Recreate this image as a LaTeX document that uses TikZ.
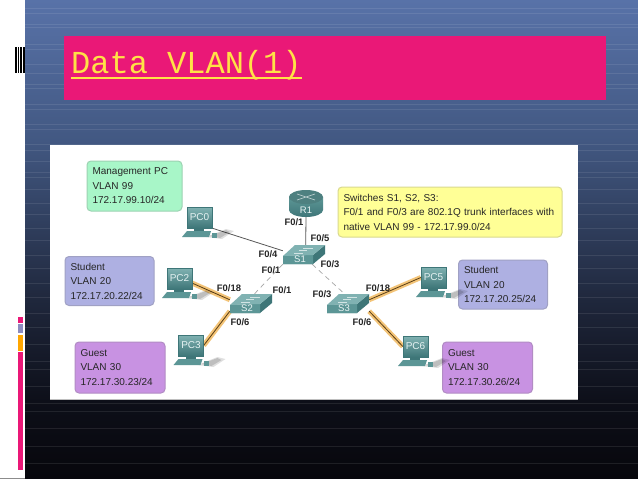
\documentclass[tikz,border=0pt]{standalone}
\usepackage{fontspec}
\setmainfont{Liberation Sans}
\newfontfamily\titlefont{Liberation Mono}
\usetikzlibrary{calc}
\pgfdeclarelayer{bgl}\pgfdeclarelayer{conn}
\pgfsetlayers{bgl,conn,main}
\definecolor{titlepink}{RGB}{234,24,119}
\definecolor{titleyellow}{RGB}{255,226,70}
\definecolor{mgmtgreen}{RGB}{168,246,200}
\definecolor{stuviolet}{RGB}{174,176,226}
\definecolor{guestpurple}{RGB}{200,146,226}
\definecolor{noteyellow}{RGB}{255,255,150}
\definecolor{tealhi}{RGB}{128,178,178}
\definecolor{tealmid}{RGB}{92,150,150}
\definecolor{tealdk}{RGB}{62,118,120}
\definecolor{glow}{RGB}{243,196,120}
\definecolor{core}{RGB}{90,62,20}
\tikzset{
  x=1pt,y=-1pt,
  infobox/.style={draw=#1!70!gray,line width=1pt,rounded corners=4pt,align=left,inner sep=0pt,
     font=\fontsize{10}{14.5}\selectfont,text=black!85},
  mgmtbox/.style={infobox=mgmtgreen,fill=mgmtgreen,minimum width=95,minimum height=50,text width=84},
  stubox/.style={infobox=stuviolet,fill=stuviolet,minimum width=89,minimum height=49,text width=78},
  guestbox/.style={infobox=guestpurple,fill=guestpurple,minimum width=90,minimum height=51,text width=79},
  notebox/.style={infobox=noteyellow,fill=noteyellow,minimum width=224,minimum height=50,text width=213},
  portlabel/.style={font=\fontsize{9.4}{10}\selectfont\bfseries,text=black!85,inner sep=0pt},
  devlabel/.style={font=\fontsize{9.5}{10}\selectfont,text=white!92!teal,inner sep=0pt},
  pcbody/.style={top color=tealhi,bottom color=tealdk,draw=tealdk,line width=.3pt,inner sep=0pt,
     minimum width=25,minimum height=21,font=\fontsize{10}{10}\selectfont,text=white!90!teal},
  swbox/.style={minimum width=42,minimum height=19,inner sep=0pt},
  plainlink/.style={draw=black!65,line width=.8pt},
  trunklink/.style={draw=black!35,line width=.7pt,dash pattern=on 5pt off 4pt},
  glowlink/.style={draw=glow,line width=5pt},
  corelink/.style={draw=core,line width=.8pt},
  stripe/.style={draw=white,opacity=.09,line width=.7pt},
}
% name, label x, label y, label text
\newcommand{\pcdev}[4]{%
  \fill[black,opacity=.12] (#2+8,#3+19) -- (#2+28,#3+11) -- (#2+36,#3+13) -- (#2+24,#3+21) -- cycle;
  \fill[black,opacity=.15] (#2+12,#3+18) -- (#2+28,#3+12) -- (#2+32,#3+14) -- (#2+22,#3+20) -- cycle;
  \fill[tealmid] (#2-16,#3+19) -- (#2-11,#3+13) -- (#2+13,#3+13) -- (#2+11,#3+19) -- cycle;
  \fill[tealdk] (#2-4,#3+9) rectangle (#2+6,#3+13);
  \fill[tealmid] (#2+14,#3+15) rectangle (#2+19,#3+20);
  \node[pcbody] (#1) at (#2+1.5,#3-.5) {#4};
}
\newcommand{\swdev}[4]{%
  \fill[tealdk] (#2-17,#3-3) -- (#2+13,#3-4) -- (#2+25,#3-14) -- (#2+25,#3-5) -- (#2+13,#3+5) -- (#2-17,#3+5) -- cycle;
  \fill[tealmid] (#2-17,#3-3) -- (#2+13,#3-4) -- (#2+13,#3+5) -- (#2-17,#3+5) -- cycle;
  \fill[tealhi] (#2-17,#3-3) -- (#2-5,#3-14) -- (#2+25,#3-14) -- (#2+13,#3-4) -- cycle;
  \draw[white,opacity=.65,line width=.6pt] (#2-6,#3-6) -- (#2+3,#3-6) (#2+3,#3-11) -- (#2+13,#3-11) (#2-1,#3-9) -- (#2+7,#3-9);
  \node[swbox] (#1) at (#2+4,#3-4.5) {};
  \node[devlabel] at (#2,#3) {#4};
}
\begin{document}
\begin{tikzpicture}
\useasboundingbox (0,0) rectangle (638,479);
\begin{pgfonlayer}{bgl}
  \fill[white] (0,0) rectangle (638,479);
  \shade[top color={rgb,255:red,88;green,114;blue,168},bottom color={rgb,255:red,66;green,88;blue,130}] (25,0) rectangle (638,141);
  \shade[top color={rgb,255:red,66;green,88;blue,130},bottom color={rgb,255:red,31;green,39;blue,60}] (25,140) rectangle (638,301);
  \shade[top color={rgb,255:red,31;green,39;blue,60},bottom color={rgb,255:red,13;green,15;blue,25}] (25,300) rectangle (638,401);
  \shade[top color={rgb,255:red,13;green,15;blue,25},bottom color={rgb,255:red,7;green,7;blue,12}] (25,400) rectangle (638,478);
  \foreach \yy in {8,13,24,27,44,49,64,73,84,88,104,109,124,129,144,150,161,172,177,189,203,214,228,240,255,268,283,297,313,327,344,361,369,386,403,411,428,446,463}
    \draw[stripe] (25,\yy) -- (638,\yy);
  % left margin marks
  \fill[black] (15,47) rectangle (25,73);
  \foreach \xx in {16.8,19.2,21.6} \fill[white] (\xx,47) rectangle (\xx+.8,73);
  \fill[titlepink] (18,317) rectangle (23,323);
  \fill[black!55!blue!45!white] (18,324) rectangle (23,333);
  \fill[orange!70!yellow] (18,335) rectangle (23,351);
  \fill[titlepink] (18,352) rectangle (23,470);
  \fill[black!45] (0,477.8) rectangle (25,479);
  % panels
  \fill[titlepink] (64,36) rectangle (606,100);
  \fill[white] (50,145) rectangle (578,400);
  \fill[black!25] (50,399.4) rectangle (578,400);
\end{pgfonlayer}

\node[font=\titlefont\fontsize{32}{32}\selectfont,text=titleyellow,anchor=base west,inner sep=0pt] (title) at (71,73) {Data VLAN(1)};
\draw[titleyellow,line width=1.4pt] ($(title.base west)+(0,5)$) -- ($(title.base east)+(0,5)$);

% information boxes
\node[mgmtbox] (mgmt) at (134.5,186) {Management PC\\VLAN 99\\172.17.99.10/24};
\node[stubox] (stuL) at (109.5,281) {Student\\VLAN 20\\172.17.20.22/24};
\node[guestbox] (guestL) at (120,367.5) {Guest\\VLAN 30\\172.17.30.23/24};
\node[notebox] (note) at (450,212) {Switches S1, S2, S3:\\F0/1 and F0/3 are 802.1Q trunk interfaces with\\native VLAN 99 - 172.17.99.0/24};
\node[stubox] (stuR) at (503,284.5) {Student\\VLAN 20\\172.17.20.25/24};
\node[guestbox] (guestR) at (487.5,367.5) {Guest\\VLAN 30\\172.17.30.26/24};

% router
\shade[top color=tealmid,bottom color=tealdk] (289,197) -- (289,210) arc[start angle=180,end angle=360,x radius=17,y radius=-7] -- (323,197) -- cycle;
\fill[tealmid!85!black] (306,197) ellipse[x radius=17,y radius=7];
\draw[white,opacity=.6,line width=.7pt] (297,194) -- (315,200) (297,200) -- (315,194);
\node[minimum width=34,minimum height=27,inner sep=0pt] (r1) at (306,203.5) {};
\node[devlabel] at (306,210) {R1};

% devices
\pcdev{pc0}{198}{218}{PC0}
\pcdev{pc2}{178}{279}{PC2}
\pcdev{pc3}{189.5}{346}{PC3}
\pcdev{pc5}{432}{278}{PC5}
\pcdev{pc6}{414}{347}{PC6}
\swdev{s1}{300}{259}{S1}
\swdev{s2}{247}{308}{S2}
\swdev{s3}{344}{308}{S3}

% connectors
\begin{pgfonlayer}{conn}
  \draw[plainlink] (pc0.south east) -- (s1.170);
  \draw[plainlink] (r1.south) -- (s1.80);
  \draw[trunklink] (s1.south west) -- (s2.70);
  \draw[trunklink] (s1.310) -- (s3.110);
  \draw[glowlink] (pc2.-20) -- (s2.170);
  \draw[corelink] (pc2.-20) -- (s2.170);
  \draw[glowlink] (pc3.east) -- (s2.200);
  \draw[corelink] (pc3.east) -- (s2.200);
  \draw[glowlink] (pc5.west) -- (s3.10);
  \draw[corelink] (pc5.west) -- (s3.10);
  \draw[glowlink] (pc6.west) -- (s3.-20);
  \draw[corelink] (pc6.west) -- (s3.-20);
\end{pgfonlayer}

% port labels
\node[portlabel] (p1) at (294,222) {F0/1};
\node[portlabel] (p2) at (320,238) {F0/5};
\node[portlabel] (p3) at (268,254) {F0/4};
\node[portlabel] (p4) at (271,270) {F0/1};
\node[portlabel] (p5) at (330,264) {F0/3};
\node[portlabel] (p6) at (229,288) {F0/18};
\node[portlabel] (p7) at (282,290) {F0/1};
\node[portlabel] (p8) at (322,294) {F0/3};
\node[portlabel] (p9) at (378,288) {F0/18};
\node[portlabel] (p10) at (240,322) {F0/6};
\node[portlabel] (p11) at (362,322) {F0/6};
\end{tikzpicture}
\end{document}
